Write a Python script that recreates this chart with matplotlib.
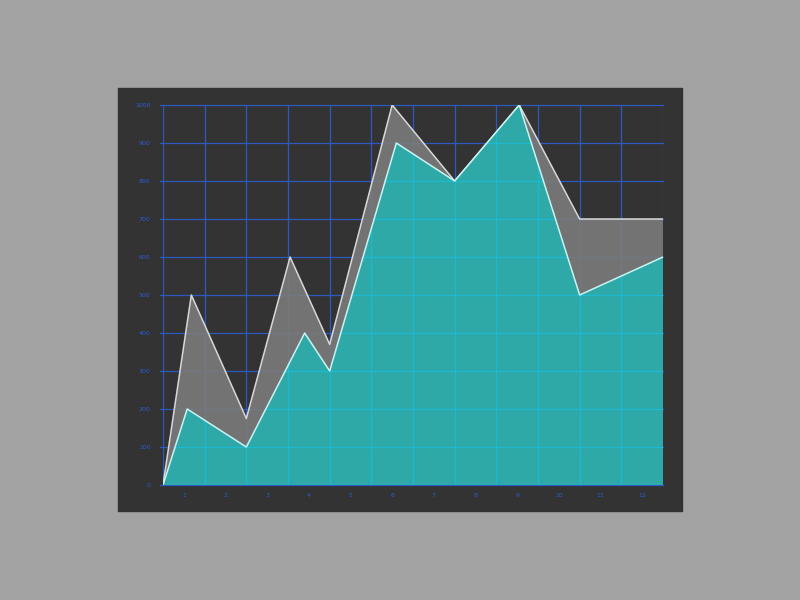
import numpy as np
from matplotlib import pyplot as plt
from matplotlib.patches import Rectangle

# values (x in grid units, 0..12)
back_x = [0, 0.68, 2.0, 3.05, 4.0, 5.5, 7.0, 8.55, 10.0, 12.0]
back_y = [0, 500, 175, 600, 370, 1000, 800, 1000, 700, 700]
front_x = [0, 0.58, 2.0, 3.4, 4.0, 5.6, 7.0, 8.55, 10.0, 12.0]
front_y = [0, 200, 100, 400, 300, 900, 800, 1000, 500, 600]
month_labels = [str(i) for i in range(1, 13)]
y_ticks = list(range(0, 1001, 100))

fig = plt.figure(figsize=(8, 6), dpi=100, facecolor='#a3a3a3')
fig.patches.append(Rectangle((118 / 800, 1 - 511 / 600), 564 / 800, 423 / 600,
                             transform=fig.transFigure, color='#333333', zorder=-10))

ax = fig.add_axes([163 / 800, 115 / 600, 500 / 800, 380 / 600])
ax.set_facecolor('#333333')
for s in ax.spines.values():
    s.set_visible(False)

ax.set_xlim(0, 12)
ax.set_ylim(0, 1000)

grid_blue = '#2c58c0'
for xi in range(13):
    ax.axvline(xi, color=grid_blue, lw=0.9, zorder=1)
for yi in y_ticks:
    ax.axhline(yi, color=grid_blue, lw=0.9, zorder=1, xmin=-0.006, clip_on=False)

# back (gray) area
bx = np.r_[back_x, back_x[-1], back_x[0]]
by = np.r_[back_y, 0, 0]
ax.fill(bx, by, color='#7b7b7b', alpha=0.9, zorder=2, lw=0)
ax.plot(back_x, back_y, color='#d8d8d8', lw=1.1, zorder=3)

# front (teal) area
fx = np.r_[front_x, front_x[-1], front_x[0]]
fy = np.r_[front_y, 0, 0]
poly = ax.fill(fx, fy, color='#2ea9a8', zorder=4, lw=0)[0]
for xi in range(13):
    ln = ax.axvline(xi, color='#1cbad2', lw=0.9, zorder=5)
    ln.set_clip_path(poly)
for yi in y_ticks:
    ln = ax.axhline(yi, color='#1cbad2', lw=0.9, zorder=5)
    ln.set_clip_path(poly)
ax.plot(front_x, front_y, color='#c8f4f4', lw=1.1, zorder=6)

ax.set_xticks(np.arange(13))
ax.set_xticklabels([])
ax.set_xticks(np.arange(12) + 0.5, minor=True)
ax.set_xticklabels(month_labels, minor=True)
ax.set_yticks(y_ticks)
ax.set_yticklabels([str(v) for v in y_ticks])
ax.tick_params(axis='both', which='both', length=0, labelsize=4.5, labelcolor='#2f5ad0')
ax.tick_params(axis='x', which='minor', pad=6)
ax.tick_params(axis='y', pad=9)

plt.savefig('out.png', dpi=100, facecolor=fig.get_facecolor())
